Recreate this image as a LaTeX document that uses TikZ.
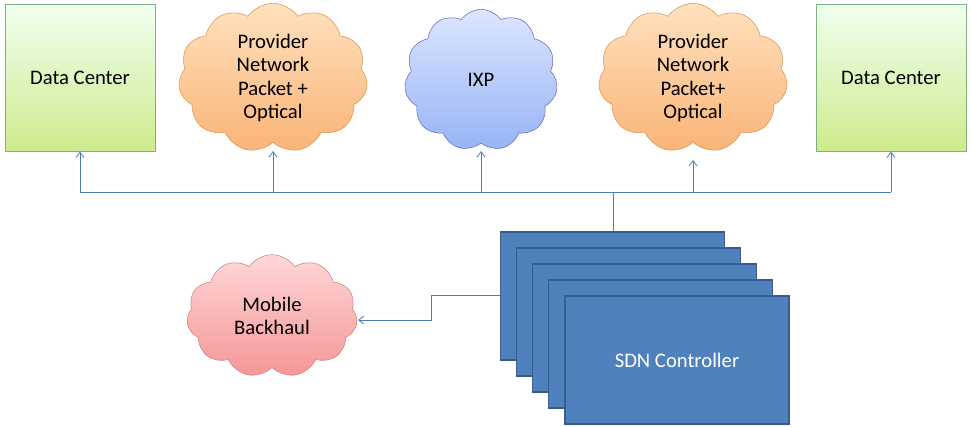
\documentclass[tikz,border=0pt]{standalone}
\usepackage{fontspec}
\setmainfont{Carlito}
\usetikzlibrary{shapes.symbols,arrows.meta}
\begin{document}
\begin{tikzpicture}[x=0.75pt,y=-0.75pt,
  every node/.style={font=\fontsize{15.5}{17.5}\selectfont, align=center},
  dc/.style={draw=green!40!black!50, top color=white!60!green!15, bottom color={rgb,255:red,205;green,235;blue,140}, minimum width=112.5pt, minimum height=110pt, inner sep=0},
  cl/.style={cloud, cloud puffs=11, cloud puff arc=110, aspect=1.3, inner sep=0},
  orc/.style={cl, draw=orange!80!black!70, top color={rgb,255:red,255;green,225;blue,190}, bottom color={rgb,255:red,250;green,180;blue,120}},
  blc/.style={cl, draw=blue!60!black!60, top color={rgb,255:red,220;green,230;blue,255}, bottom color={rgb,255:red,150;green,180;blue,245}},
  rdc/.style={cl, draw=red!60!black!50, top color={rgb,255:red,255;green,215;blue,215}, bottom color={rgb,255:red,245;green,150;blue,150}},
  sdn/.style={draw={rgb,255:red,56;green,93;blue,138}, fill={rgb,255:red,79;green,129;blue,189}, line width=1pt, minimum width=168pt, minimum height=96pt, inner sep=0},
  ln/.style={draw={rgb,255:red,74;green,126;blue,187}, line width=0.6pt},
  ar/.style={ln, -{Straight Barb[length=4pt,width=6pt]}}]
\useasboundingbox (0,0) rectangle (971,426);
\node[dc] (dc1) at (80,78) {Data Center};
\node[dc] (dc2) at (891,78) {Data Center};
\node[orc, minimum width=142pt, minimum height=112pt] (p1) at (273,78) {Provider\\Network\\Packet +\\Optical};
\node[blc, minimum width=115pt, minimum height=106pt] (ixp) at (481,80) {IXP};
\node[orc, minimum width=142pt, minimum height=112pt] (p2) at (693,78) {Provider\\Network\\Packet+\\Optical};
\node[rdc, minimum width=128pt, minimum height=92pt] (mb) at (272,316) {Mobile\\Backhaul};
\node[sdn] (s1) at (612.5,296) {};
\node[sdn] (s2) at (628.5,312) {};
\node[sdn] (s3) at (644.5,328) {};
\node[sdn] (s4) at (660.5,344) {};
\node[sdn, text=white] (s5) at (677,360) {SDN Controller};
\coordinate (b1) at (80,192);
\coordinate (b5) at (891,192);
\coordinate (bj) at (613,192);
\draw[ln] (b1) -- (b5);
\draw[ln] (bj) -- (s1.north -| bj);
\draw[ar] (b1) -- (dc1.south);
\draw[ar] (b5) -- (dc2.south);
\draw[ar] (273,192) -- (273,151);
\draw[ar] (481,192) -- (481,151);
\draw[ar] (693,192) -- (693,160);
\coordinate (m1) at (431,295);
\coordinate (m2) at (431,320);
\draw[ar] (s1.west |- m1) -- (m1) -- (m2) -- (358,320);
\end{tikzpicture}
\end{document}
